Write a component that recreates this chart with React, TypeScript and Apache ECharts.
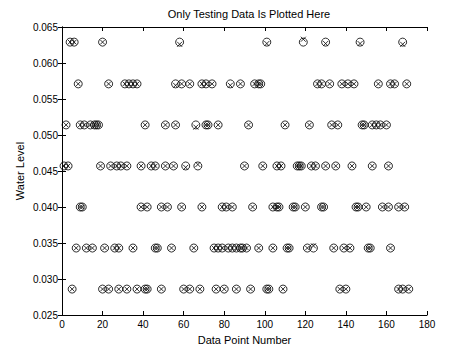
import React, { useEffect, useRef } from "react";
import * as echarts from "echarts";

// Discrete water levels (y values)
const levels = [0.0629, 0.0571, 0.0514, 0.0457, 0.04, 0.0343, 0.0286];

// Data point numbers that fall at each level
const idx0629 = [4, 6, 20, 58, 101, 119, 130, 147, 168];
const idx0571 = [8, 23, 31, 33, 35, 37, 56, 59, 63, 69, 71, 74, 83, 88, 95, 97, 98, 126, 128, 132, 138, 141, 144, 156, 162, 164, 170];
const idx0514 = [2, 9, 11, 14, 16, 17, 18, 41, 51, 56, 66, 71, 72, 77, 92, 110, 122, 133, 136, 148, 149, 153, 155, 157, 160];
const idx0457 = [1, 3, 19, 24, 27, 29, 32, 39, 44, 46, 51, 55, 61, 67, 90, 99, 106, 108, 116, 117, 118, 123, 125, 130, 135, 143, 153, 161];
const idx0400 = [9, 10, 39, 42, 49, 52, 59, 69, 79, 81, 84, 94, 104, 106, 107, 114, 115, 120, 128, 129, 145, 146, 150, 158, 161, 166, 169];
const idx0343 = [7, 12, 15, 21, 26, 28, 35, 46, 47, 54, 65, 75, 77, 79, 82, 84, 86, 88, 89, 91, 97, 104, 111, 112, 121, 124, 134, 139, 142, 151, 152, 162];
const idx0286 = [5, 20, 23, 28, 32, 37, 41, 42, 49, 60, 63, 68, 76, 80, 86, 93, 101, 102, 109, 137, 140, 166, 168, 171];

// Predicted values that differ visibly from the actual ones: [pointNumber, predicted]
const predDiffs: [number, number][] = [
  [58, 0.0626],
  [101, 0.0627],
  [119, 0.0633],
  [130, 0.0627],
  [147, 0.0627],
  [168, 0.0626],
  [56, 0.0569],
  [83, 0.0569],
  [66, 0.0511],
  [61, 0.0455],
  [67, 0.0459],
  [124, 0.0346],
];

const xTicks = [0, 20, 40, 60, 80, 100, 120, 140, 160, 180];
const yTicks = [0.025, 0.03, 0.035, 0.04, 0.045, 0.05, 0.055, 0.06, 0.065];

const groups = [idx0629, idx0571, idx0514, idx0457, idx0400, idx0343, idx0286];

export default function App() {
  const ref = useRef<HTMLDivElement>(null);
  useEffect(() => {
    if (!ref.current) return;
    const chart = echarts.init(ref.current, null, { renderer: "svg" });
    const actual: number[][] = [];
    groups.forEach((g, i) => g.forEach((x) => actual.push([x, levels[i]])));
    const diffMap = new Map(predDiffs);
    const predicted = actual.map(([x, y]) => {
      const d = diffMap.get(x);
      return [x, d !== undefined && Math.abs(d - y) < 0.002 ? d : y];
    });
    const font = "'Liberation Sans', Arial, sans-serif";
    const axisCommon = {
      axisLine: { lineStyle: { color: "#000", width: 1 } },
      axisTick: { inside: true, length: 4, lineStyle: { color: "#000" } },
      splitLine: { show: false },
    };
    chart.setOption({
      animation: false,
      backgroundColor: "#fff",
      title: {
        text: "Only Testing Data Is Plotted Here",
        left: 244,
        textAlign: "center",
        top: 3,
        textStyle: { fontFamily: font, fontSize: 11, fontWeight: "normal", color: "#000" },
      },
      grid: { left: 62, right: 47, top: 27, bottom: 40, containLabel: false },
      xAxis: [
        {
          type: "value",
          min: xTicks[0],
          max: xTicks[xTicks.length - 1],
          interval: 20,
          position: "bottom",
          name: "Data Point Number",
          nameLocation: "middle",
          nameGap: 19,
          nameMoveOverlap: false,
          nameTextStyle: { fontFamily: font, fontSize: 11, color: "#000" },
          axisLabel: { fontFamily: font, fontSize: 10, color: "#000", margin: 4 },
          ...axisCommon,
        },
        {
          type: "value",
          min: xTicks[0],
          max: xTicks[xTicks.length - 1],
          interval: 20,
          position: "top",
          axisLabel: { show: false },
          ...axisCommon,
        },
      ],
      yAxis: [
        {
          type: "value",
          min: yTicks[0],
          max: yTicks[yTicks.length - 1],
          interval: 0.005,
          position: "left",
          name: "Water Level",
          nameLocation: "middle",
          nameGap: 37,
          nameMoveOverlap: false,
          nameTextStyle: { fontFamily: font, fontSize: 11, color: "#000" },
          axisLabel: {
            fontFamily: font,
            fontSize: 10,
            color: "#000",
            margin: 4,
            formatter: (v: number) => v.toFixed(3),
          },
          ...axisCommon,
        },
        {
          type: "value",
          min: yTicks[0],
          max: yTicks[yTicks.length - 1],
          interval: 0.005,
          position: "right",
          axisLabel: { show: false },
          ...axisCommon,
        },
      ],
      series: [
        {
          type: "scatter",
          name: "Actual",
          data: actual,
          symbol: "circle",
          symbolSize: 8,
          itemStyle: { color: "none", borderColor: "#000", borderWidth: 1 },
        },
        {
          type: "scatter",
          name: "Predicted",
          data: predicted,
          symbol: "path://M0,0L10,10M10,0L0,10",
          symbolSize: 5,
          itemStyle: { color: "none", borderColor: "#000", borderWidth: 1 },
        },
      ],
    });
    return () => chart.dispose();
  }, []);
  return <div ref={ref} style={{ width: 474, height: 355, margin: -8 }} />;
}
